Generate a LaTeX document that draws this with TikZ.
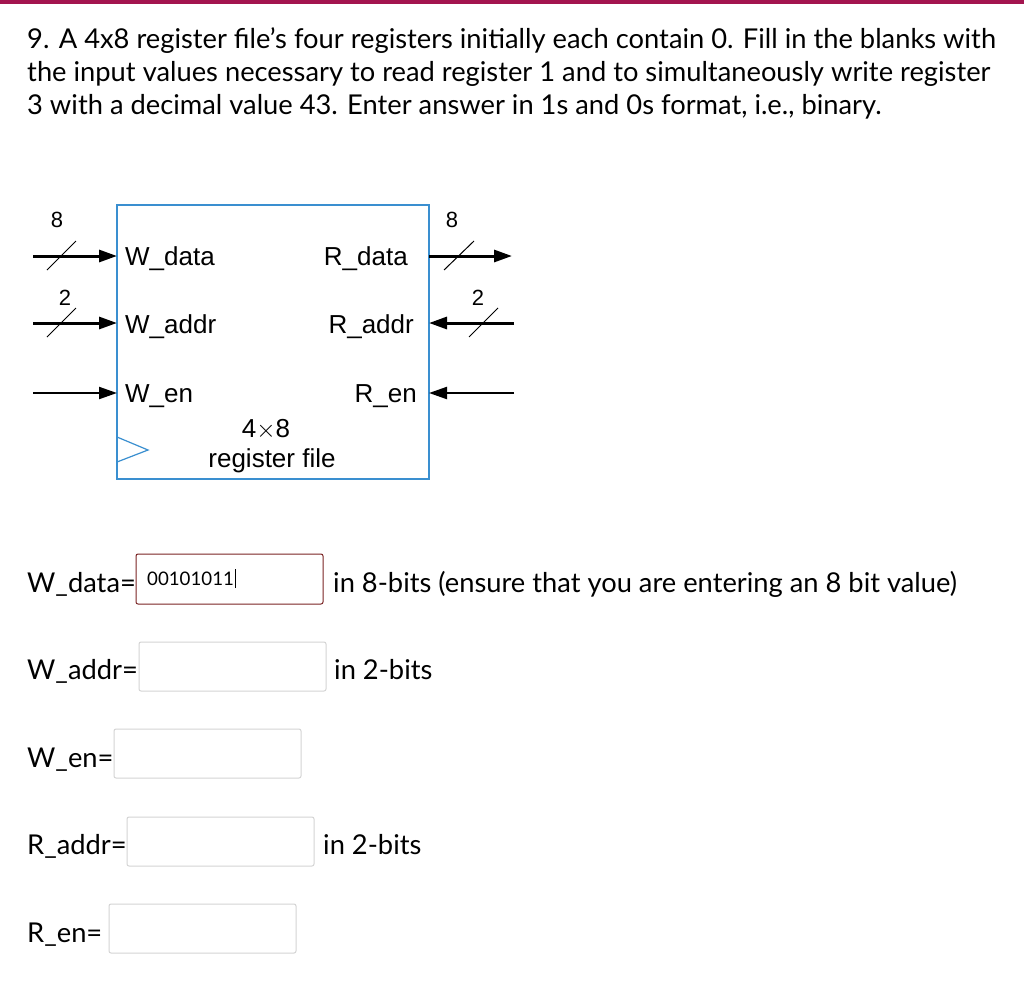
\documentclass[tikz,border=0pt]{standalone}
\usepackage{fontspec}
\setmainfont{Lato}
\newfontfamily\arial{Liberation Sans}
\usetikzlibrary{arrows.meta}
\definecolor{bar}{HTML}{A3154F}
\definecolor{rfblue}{HTML}{3A8FD0}
\definecolor{redb}{HTML}{7A2424}
\definecolor{grayb}{HTML}{D4D4D4}
\tikzset{
  lbl/.style={font=\arial\fontsize{26}{30}\selectfont, inner sep=0pt, anchor=base west},
  num/.style={font=\arial\fontsize{22}{24}\selectfont, inner sep=0pt},
  sig/.style={line width=3pt, -{Triangle[length=18pt,width=12pt]}},
  slash/.style={line width=1pt},
  txt/.style={font=\fontsize{27.3}{33}\selectfont, inner sep=0pt, anchor=base west},
  field/.style={draw=grayb, line width=1pt, rounded corners=2pt},
}
\begin{document}
\begin{tikzpicture}[x=1pt,y=-1pt]
\useasboundingbox[fill=white] (0,0) rectangle (1024,983);
\fill[bar] (0,0) rectangle (1024,4);
\node[txt] (q1) at (27,48) {9. A 4x8 register file’s four registers initially each contain 0. Fill in the blanks with};
\node[txt] (q2) at (27,81) {the input values necessary to read register 1 and to simultaneously write register};
\node[txt] (q3) at (27,114) {3 with a decimal value 43. Enter answer in 1s and 0s format, i.e., binary.};
% register file
\draw[rfblue, line width=1.8pt] (117,205) rectangle (429,479);
\draw[rfblue, line width=1.2pt] (117,437) -- (148,450) -- (117,462);
\coordinate (wd) at (117,256); \coordinate (wa) at (117,323); \coordinate (we) at (117,393);
\coordinate (rd) at (429,256); \coordinate (ra) at (429,323); \coordinate (re) at (429,393);
\coordinate (wd0) at (33,256); \coordinate (wa0) at (33,323); \coordinate (we0) at (33,393);
\coordinate (rd0) at (512,256); \coordinate (ra0) at (514,323); \coordinate (re0) at (514,393);
\draw[sig] (wd0) -- (wd);
\draw[sig] (wa0) -- (wa);
\draw[sig, line width=2.2pt] (we0) -- (we);
\draw[sig] (rd) -- (rd0);
\draw[sig] (ra0) -- (ra);
\draw[sig, line width=2.2pt] (re0) -- (re);
\draw[slash] (47,270) -- (76,241);
\draw[slash] (47,337) -- (76,308);
\draw[slash] (444,270) -- (474,241);
\draw[slash] (469,337) -- (498,308);
\node[num] (n1) at (57,220) {8};
\node[num] (n2) at (452,220) {8};
\node[num] (n3) at (65,298) {2};
\node[num] (n4) at (478,298) {2};
\node[lbl] (l1) at (125,265) {W\_data};
\node[lbl] (l2) at (125,333) {W\_addr};
\node[lbl] (l3) at (125,402) {W\_en};
\node[lbl, anchor=base east] (l4) at (408,265) {R\_data};
\node[lbl, anchor=base east] (l5) at (414,333) {R\_addr};
\node[lbl, anchor=base east] (l6) at (417,402) {R\_en};
\node[lbl, anchor=base] (l7) at (266,437) {4$\times$8};
\node[lbl, anchor=base] (l8) at (272,467) {register file};
% form
\node[txt] (f1) at (27,592) {W\_data=};
\draw[redb, line width=1pt, rounded corners=2pt] (136,554) rectangle (323,604);
\node[font=\fontsize{18.7}{20}\selectfont, inner sep=0pt, anchor=base west] (v1) at (147,585) {00101011};
\draw[line width=0.8pt] (v1.base east) ++(1,3) -- ++(0,-19);
\node[txt] (g1) at (333,592) {in 8-bits (ensure that you are entering an 8 bit value)};
\node[txt] (f2) at (27,679) {W\_addr=};
\draw[field] (139,642) rectangle (326,691);
\node[txt] (g2) at (334,679) {in 2-bits};
\node[txt] (f3) at (27,767) {W\_en=};
\draw[field] (114,729) rectangle (301,778);
\node[txt] (f4) at (27,854) {R\_addr=};
\draw[field] (127,817) rectangle (314,866);
\node[txt] (g4) at (323,854) {in 2-bits};
\node[txt] (f5) at (27,942) {R\_en=};
\draw[field] (109,904) rectangle (296,953);
\end{tikzpicture}
\end{document}
